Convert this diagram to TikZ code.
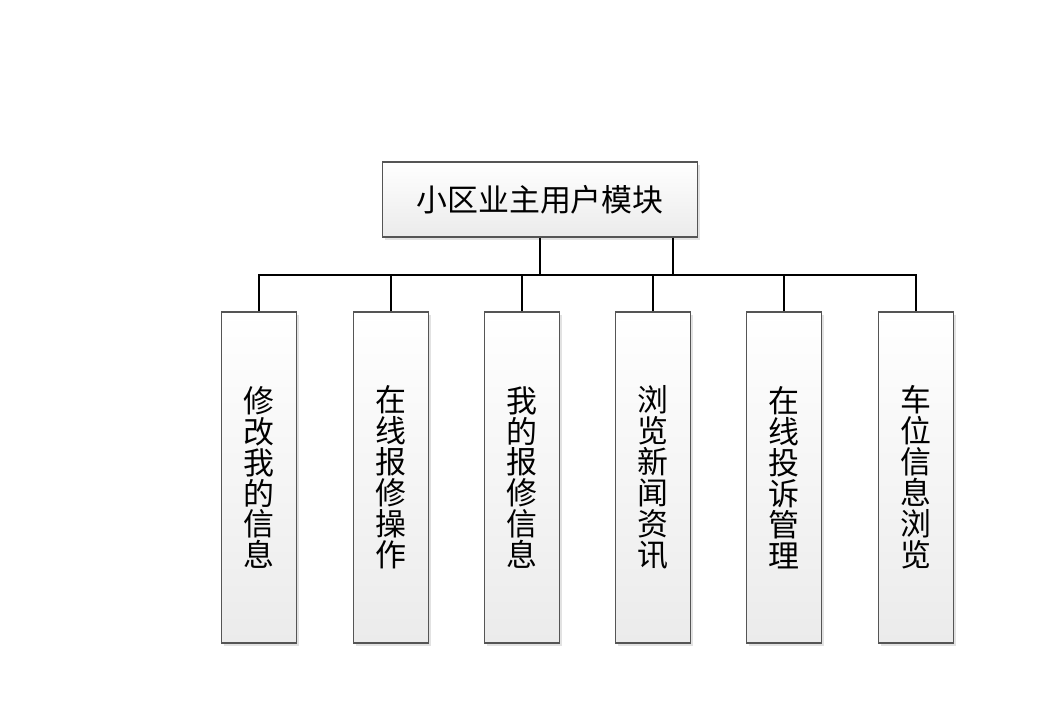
\documentclass[tikz,border=0pt]{standalone}
\usepackage{fontspec}
\newfontfamily\cjk{Noto Sans CJK SC}
\usetikzlibrary{calc,shadows}
\usepackage{xcolor}
\definecolor{boxLine}{HTML}{555555}
\definecolor{boxFill}{HTML}{EBEBEB}

\begin{document}
\begin{tikzpicture}[x=0.025cm,y=-0.025cm]
    \pgfmathsetmacro{\busy}{275}	%bus height
    \pgfmathsetmacro{\leafy}{477.5}

    \tikzset{
        modbox/.style={draw=boxLine, line width=1pt, top color=white, bottom color=boxFill,
            drop shadow={shadow xshift=2pt, shadow yshift=-2pt, fill=gray!45},
            font=\cjk\fontsize{22}{22}\selectfont, inner sep=0pt},
        rootbox/.style={modbox, minimum width=7.875cm, minimum height=1.875cm},
        leafbox/.style={modbox, minimum width=1.875cm, minimum height=8.275cm, align=center},
        link/.style={draw=black, line width=1.3pt}
    }

    \useasboundingbox (0,0) rectangle (1061,720);

    \node[rootbox] (root) at (540,199.5) {小区业主用户模块};

    \node[leafbox] (leaf1) at (259,\leafy) {修\\改\\我\\的\\信\\息};
    \node[leafbox] (leaf2) at (391,\leafy) {在\\线\\报\\修\\操\\作};
    \node[leafbox] (leaf3) at (522,\leafy) {我\\的\\报\\修\\信\\息};
    \node[leafbox] (leaf4) at (653,\leafy) {浏\\览\\新\\闻\\资\\讯};
    \node[leafbox] (leaf5) at (784,\leafy) {在\\线\\投\\诉\\管\\理};
    \node[leafbox] (leaf6) at (916,\leafy) {车\\位\\信\\息\\浏\\览};

    \coordinate (bus) at (0,\busy);
    \coordinate (rootR) at ($(root.south east) + (-25.5,0)$);

    \draw[link] (root.south) -- (root.south |- bus);
    \draw[link] (rootR) -- (rootR |- bus);
    \draw[link] (leaf1.north) -- (leaf1.north |- bus) -- (leaf6.north |- bus) -- (leaf6.north);
    \foreach \n in {2,3,4,5}
        \draw[link] (leaf\n.north) -- (leaf\n.north |- bus);
\end{tikzpicture}
\end{document}
